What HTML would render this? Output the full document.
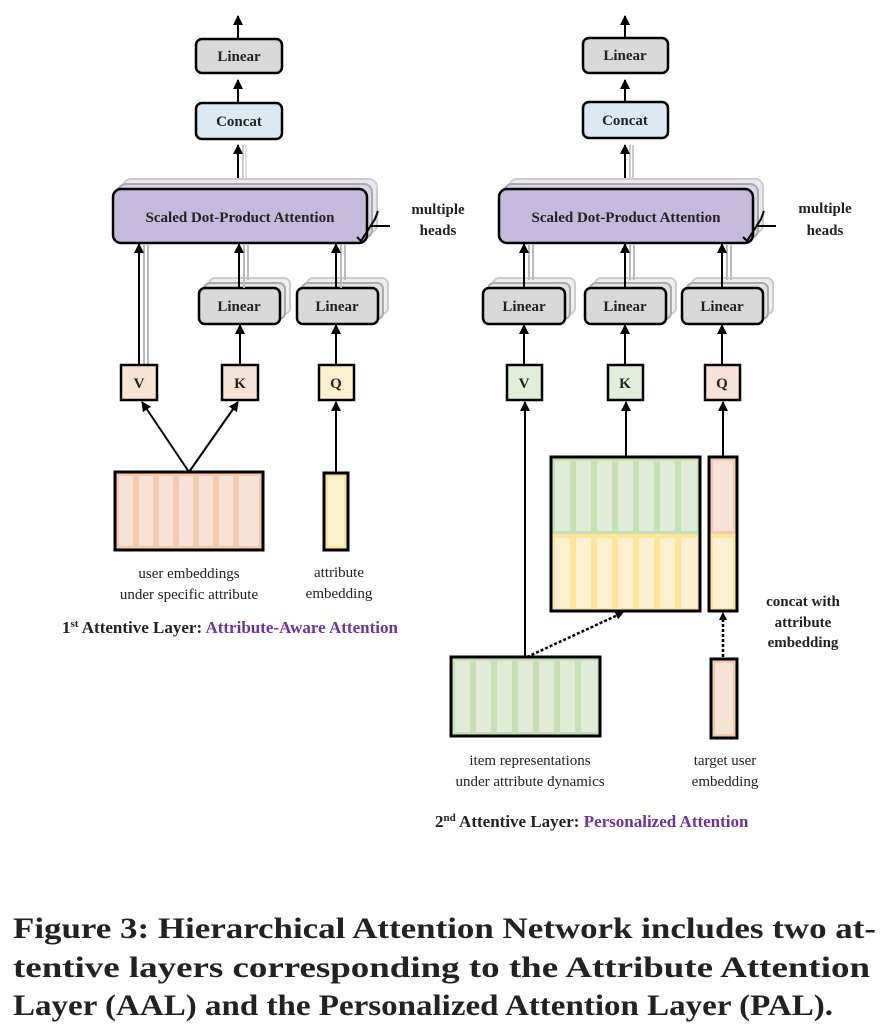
<!DOCTYPE html>
<html><head><meta charset="utf-8"><style>
body{margin:0;background:#fff;width:894px;height:1025px;overflow:hidden;position:relative}
svg{position:absolute;left:0;top:0}
</style></head><body>
<svg width="894" height="1025" viewBox="0 0 894 1025" font-family="Liberation Serif, serif">
<defs><marker id="a" markerWidth="8" markerHeight="8" refX="4" refY="4" orient="auto" markerUnits="userSpaceOnUse"><path d="M0,0 L8,4 L0,8z" fill="#000"/></marker>
<marker id="b" markerWidth="10" markerHeight="10" refX="9" refY="5" orient="auto" markerUnits="userSpaceOnUse"><path d="M0,0 L10,5 L0,10z" fill="#000"/></marker></defs>
<g stroke="#000" stroke-width="2" fill="none">
<line x1="238" y1="38" x2="238" y2="16" marker-end="url(#b)"/>
<line x1="238" y1="103" x2="238" y2="80" marker-end="url(#b)"/>
<line x1="243" y1="180" x2="243" y2="145" stroke="#ccc"/><line x1="246" y1="180" x2="246" y2="145" stroke="#ddd"/>
<line x1="238" y1="189" x2="238" y2="145" marker-end="url(#b)"/>
<rect x="123" y="179" width="254" height="54" rx="8" fill="#ece8f3" stroke="#ccc"/>
<rect x="118" y="184" width="254" height="54" rx="8" fill="#ddd6ea" stroke="#aaa"/>
<rect x="113" y="189" width="254" height="54" rx="8" fill="#c5b9dc" stroke-width="2.5"/>
<path d="M357,237 l4,4 l14,-22 l3,-8 M370,226 h20" />
<rect x="209" y="278" width="81" height="36" rx="6" fill="#eee" stroke="#ccc"/>
<rect x="204" y="283" width="81" height="36" rx="6" fill="#e3e3e3" stroke="#aaa"/>
<rect x="199" y="288" width="81" height="36" rx="6" fill="#d9d9d9" stroke-width="2.5"/>
<rect x="307" y="278" width="81" height="36" rx="6" fill="#eee" stroke="#ccc"/>
<rect x="302" y="283" width="81" height="36" rx="6" fill="#e3e3e3" stroke="#aaa"/>
<rect x="297" y="288" width="81" height="36" rx="6" fill="#d9d9d9" stroke-width="2.5"/>
<path d="M144,365 V245 M148,365 V245" stroke="#bbb"/>
<path d="M244,288 V245 M248,280 V245" stroke="#bbb"/>
<path d="M341,288 V245 M345,280 V245" stroke="#bbb"/>
<line x1="139" y1="365" x2="139" y2="244" marker-end="url(#b)"/>
<line x1="239" y1="288" x2="239" y2="244" marker-end="url(#b)"/>
<line x1="336" y1="288" x2="336" y2="244" marker-end="url(#b)"/>
<line x1="240" y1="365" x2="240" y2="325" marker-end="url(#b)"/>
<line x1="336" y1="365" x2="336" y2="325" marker-end="url(#b)"/>
<rect x="196" y="39" width="86" height="34" rx="6" fill="#d9d9d9" stroke-width="2.5"/>
<rect x="196" y="103" width="86" height="36" rx="6" fill="#dce9f2" stroke-width="2.5"/>
<rect x="121" y="365" width="36" height="35" fill="#f7e3d6" stroke-width="2.5"/>
<rect x="222" y="365" width="36" height="35" fill="#f7e3d6" stroke-width="2.5"/>
<rect x="319" y="365" width="35" height="35" fill="#fdf2cf" stroke-width="2.5"/>
<line x1="189" y1="472" x2="142" y2="402" marker-end="url(#b)"/>
<line x1="189" y1="472" x2="238" y2="402" marker-end="url(#b)"/>
<line x1="336" y1="473" x2="336" y2="402" marker-end="url(#b)"/>
<line x1="625" y1="38" x2="625" y2="16" marker-end="url(#b)"/>
<line x1="625" y1="102" x2="625" y2="80" marker-end="url(#b)"/>
<path d="M630,180 V145 M633,180 V145" stroke="#ccc"/>
<line x1="625" y1="189" x2="625" y2="145" marker-end="url(#b)"/>
<rect x="509" y="179" width="254" height="54" rx="8" fill="#ece8f3" stroke="#ccc"/>
<rect x="504" y="184" width="254" height="54" rx="8" fill="#ddd6ea" stroke="#aaa"/>
<rect x="499" y="189" width="254" height="54" rx="8" fill="#c5b9dc" stroke-width="2.5"/>
<path d="M743,237 l4,4 l14,-22 l3,-8 M756,226 h20" />
<rect x="493" y="278" width="82" height="36" rx="6" fill="#eee" stroke="#ccc"/>
<rect x="488" y="283" width="82" height="36" rx="6" fill="#e3e3e3" stroke="#aaa"/>
<rect x="595" y="278" width="81" height="36" rx="6" fill="#eee" stroke="#ccc"/>
<rect x="590" y="283" width="81" height="36" rx="6" fill="#e3e3e3" stroke="#aaa"/>
<rect x="692" y="278" width="81" height="36" rx="6" fill="#eee" stroke="#ccc"/>
<rect x="687" y="283" width="81" height="36" rx="6" fill="#e3e3e3" stroke="#aaa"/>
<path d="M529,280 V245 M533,280 V245 M630,280 V245 M634,280 V245 M727,280 V245 M731,280 V245" stroke="#bbb"/>
<line x1="524" y1="288" x2="524" y2="244" marker-end="url(#b)"/>
<line x1="625" y1="288" x2="625" y2="244" marker-end="url(#b)"/>
<line x1="722" y1="288" x2="722" y2="244" marker-end="url(#b)"/>
<rect x="483" y="288" width="82" height="36" rx="6" fill="#d9d9d9" stroke-width="2.5"/>
<rect x="585" y="288" width="81" height="36" rx="6" fill="#d9d9d9" stroke-width="2.5"/>
<rect x="682" y="288" width="81" height="36" rx="6" fill="#d9d9d9" stroke-width="2.5"/>
<line x1="524" y1="365" x2="524" y2="325" marker-end="url(#b)"/>
<line x1="625" y1="365" x2="625" y2="325" marker-end="url(#b)"/>
<line x1="722" y1="365" x2="722" y2="325" marker-end="url(#b)"/>
<rect x="583" y="38" width="85" height="35" rx="6" fill="#d9d9d9" stroke-width="2.5"/>
<rect x="583" y="102" width="85" height="36" rx="6" fill="#dce9f2" stroke-width="2.5"/>
<rect x="507" y="365" width="35" height="35" fill="#e3eed9" stroke-width="2.5"/>
<rect x="608" y="365" width="35" height="35" fill="#e3eed9" stroke-width="2.5"/>
<rect x="705" y="365" width="35" height="35" fill="#f7e3d6" stroke-width="2.5"/>
<line x1="525" y1="657" x2="525" y2="402" marker-end="url(#b)"/>
<line x1="626" y1="457" x2="626" y2="402" marker-end="url(#b)"/>
<line x1="723" y1="457" x2="723" y2="402" marker-end="url(#b)"/>
<line x1="527" y1="657" x2="620" y2="614" stroke-dasharray="3,2" stroke-width="2.5" marker-end="url(#a)"/>
<line x1="723" y1="657" x2="723" y2="616" stroke-dasharray="3,2" stroke-width="2.5" marker-end="url(#a)"/>
</g>
<g>
<rect x="115" y="472" width="148" height="78" fill="#f5c9ad"/>
<g fill="#f7e3d6"><rect x="119" y="476" width="14" height="70"/><rect x="139" y="476" width="14" height="70"/><rect x="159" y="476" width="14" height="70"/><rect x="179" y="476" width="14" height="70"/><rect x="199" y="476" width="14" height="70"/><rect x="219" y="476" width="14" height="70"/><rect x="239" y="476" width="20" height="70"/></g>
<rect x="115" y="472" width="148" height="78" fill="none" stroke="#000" stroke-width="3"/>
<rect x="324" y="473" width="24" height="77" fill="#fde597" stroke="#000" stroke-width="3"/>
<rect x="328" y="477" width="16" height="69" fill="#fdf2cf"/>
<rect x="551" y="457" width="149" height="77" fill="#c5e0b4"/>
<rect x="551" y="534" width="149" height="77" fill="#fde597"/>
<g fill="#e1ecd8"><rect x="555" y="461" width="15" height="70"/><rect x="576" y="461" width="15" height="70"/><rect x="597" y="461" width="15" height="70"/><rect x="618" y="461" width="15" height="70"/><rect x="639" y="461" width="15" height="70"/><rect x="660" y="461" width="15" height="70"/><rect x="681" y="461" width="16" height="70"/></g>
<g fill="#fdf0d2"><rect x="555" y="538" width="15" height="70"/><rect x="576" y="538" width="15" height="70"/><rect x="597" y="538" width="15" height="70"/><rect x="618" y="538" width="15" height="70"/><rect x="639" y="538" width="15" height="70"/><rect x="660" y="538" width="15" height="70"/><rect x="681" y="538" width="16" height="70"/></g>
<rect x="551" y="457" width="149" height="154" fill="none" stroke="#000" stroke-width="3"/>
<rect x="709" y="457" width="28" height="77" fill="#f5c9ad"/><rect x="713" y="461" width="20" height="70" fill="#f7e3d6"/>
<rect x="709" y="534" width="28" height="77" fill="#fde597"/><rect x="713" y="538" width="20" height="70" fill="#fdf0d2"/>
<rect x="709" y="457" width="28" height="154" fill="none" stroke="#000" stroke-width="3"/>
<rect x="451" y="657" width="149" height="79" fill="#c5e0b4"/>
<g fill="#e1ecd8"><rect x="455" y="661" width="15" height="71"/><rect x="476" y="661" width="15" height="71"/><rect x="497" y="661" width="15" height="71"/><rect x="518" y="661" width="15" height="71"/><rect x="539" y="661" width="15" height="71"/><rect x="560" y="661" width="15" height="71"/><rect x="581" y="661" width="16" height="71"/></g>
<rect x="451" y="657" width="149" height="79" fill="none" stroke="#000" stroke-width="3"/>
<rect x="711" y="659" width="26" height="79" fill="#f5c9ad" stroke="#000" stroke-width="3"/>
<rect x="715" y="663" width="18" height="71" fill="#f7e3d6"/>
</g>
<g font-weight="bold" font-size="15" fill="#222" text-anchor="middle">
<text x="239" y="61">Linear</text><text x="239" y="126">Concat</text>
<text x="240" y="222">Scaled Dot-Product Attention</text>
<text x="239" y="311">Linear</text><text x="337" y="311">Linear</text>
<text x="139" y="388">V</text><text x="240" y="388">K</text><text x="336" y="388">Q</text>
<text x="438" y="214">multiple</text><text x="438" y="235">heads</text>
<text x="625" y="60">Linear</text><text x="625" y="125">Concat</text>
<text x="626" y="222">Scaled Dot-Product Attention</text>
<text x="524" y="311">Linear</text><text x="625" y="311">Linear</text><text x="722" y="311">Linear</text>
<text x="524" y="388">V</text><text x="625" y="388">K</text><text x="722" y="388">Q</text>
<text x="825" y="213">multiple</text><text x="825" y="235">heads</text>
<text x="803" y="606">concat with</text>
<text x="803" y="627">attribute</text><text x="803" y="647">embedding</text>
</g>
<g font-size="15" fill="#222" text-anchor="middle">
<text x="189" y="578">user embeddings</text><text x="189" y="599">under specific attribute</text>
<text x="339" y="577">attribute</text><text x="339" y="598">embedding</text>
<text x="530" y="765">item representations</text><text x="530" y="786">under attribute dynamics</text>
<text x="725" y="765">target user</text><text x="725" y="786">embedding</text>
</g>
<text x="62" y="633" font-size="17" font-weight="bold" fill="#222">1<tspan font-size="11" dy="-6">st</tspan><tspan dy="6"> Attentive Layer: </tspan><tspan fill="#7030a0">Attribute-Aware Attention</tspan></text>
<text x="435" y="827" font-size="17" font-weight="bold" fill="#222">2<tspan font-size="11" dy="-6">nd</tspan><tspan dy="6"> Attentive Layer: </tspan><tspan fill="#7030a0">Personalized Attention</tspan></text>
<g font-size="30" font-weight="bold" fill="#222">
<text x="13" y="938" textLength="863" lengthAdjust="spacingAndGlyphs">Figure 3: Hierarchical Attention Network includes two at-</text>
<text x="13" y="977" textLength="857" lengthAdjust="spacingAndGlyphs">tentive layers corresponding to the Attribute Attention</text>
<text x="13" y="1015" textLength="820" lengthAdjust="spacingAndGlyphs">Layer (AAL) and the Personalized Attention Layer (PAL).</text>
</g>
</svg>
</body></html>
